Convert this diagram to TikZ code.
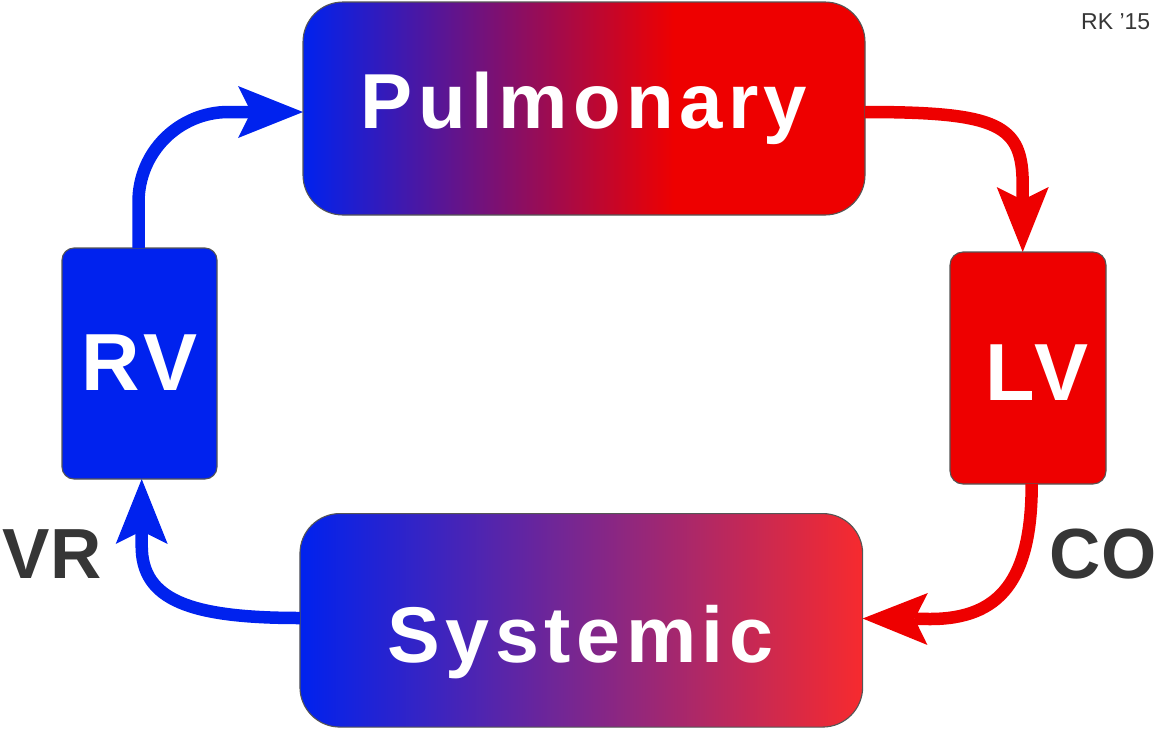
\documentclass[tikz,border=0pt]{standalone}
\usepackage{fontspec}
\setmainfont{Liberation Sans}
\newfontfamily\boxfont[LetterSpace=7]{Liberation Sans}
\usetikzlibrary{arrows.meta,calc}
\definecolor{myblue}{HTML}{0022EE}
\definecolor{myred}{HTML}{EE0000}
\definecolor{sysred}{HTML}{F72A2E}
\definecolor{labgray}{HTML}{363636}
\definecolor{edgegray}{HTML}{555555}
\pgfdeclarehorizontalshading{pulmshade}{100bp}{color(0bp)=(myblue); color(25bp)=(myblue); color(58bp)=(myred); color(100bp)=(myred)}
\pgfdeclarehorizontalshading{sysshade}{100bp}{color(0bp)=(myblue); color(25bp)=(myblue); color(75bp)=(sysred); color(100bp)=(sysred)}
\tikzset{
  bigbox/.style={draw=edgegray, line width=1.1pt, rounded corners=40pt, minimum width=562pt, minimum height=213pt, inner sep=0pt, outer sep=0pt},
  smallbox/.style={draw=edgegray, line width=1.1pt, rounded corners=12pt, minimum width=155pt, minimum height=231pt, inner sep=0pt, outer sep=0pt},
  boxtext/.style={text=white, inner sep=0pt, anchor=base, font=\boxfont\bfseries\fontsize{78}{80}\selectfont},
  vtext/.style={text=white, inner sep=0pt, anchor=base, font=\boxfont\bfseries\fontsize{81}{83}\selectfont},
  outlab/.style={text=labgray, inner sep=0pt, anchor=base, font=\bfseries\fontsize{71}{73}\selectfont},
  flow/.style={line width=12.5pt, -{Stealth[length=65pt, width=52pt, inset=13pt, line width=0pt]}},
}
\begin{document}
\begin{tikzpicture}[x=1pt, y=-1pt]
\useasboundingbox (0,0) rectangle (1157,729);
% boxes
\node[bigbox, shade, shading=pulmshade] (Pulm) at (584,108.5) {};
\node[bigbox, shade, shading=sysshade, minimum width=562.7pt, minimum height=213.5pt] (Sys) at (581.3,620.3) {};
\node[smallbox, fill=myblue] (RV) at (139.5,363.5) {};
\node[smallbox, fill=myred, minimum width=156pt, minimum height=232pt, rounded corners=13pt] (LV) at (1028,368) {};
% box texts
\node[boxtext] (tPulm) at (584,128.3) {Pulmonary};
\node[boxtext, font=\boxfont\bfseries\fontsize{79}{81}\selectfont] (tSys) at (580.5,662.5) {Systemic};
\node[vtext] (tRV) at (139.5,390.7) {RV};
\node[vtext] (tLV) at (1037,400) {LV};
% outer labels
\node[outlab] (tVR) at (52,578) {VR};
\node[outlab] (tCO) at (1103,578) {CO};
\node[text=labgray, inner sep=0pt, anchor=base, font=\fontsize{23}{25}\selectfont] (tRK) at (1115.7,29.3) {RK '15};
% connectors
\draw[flow, myblue] ($(RV.north)+(-1,0)$) -- (138.5,202) .. controls (138.5,152) and (179,112) .. (228.5,112) -- ($(Pulm.west)+(0,3.5)$);
\draw[flow, myred] ($(Pulm.east)+(0,3.5)$) .. controls (1000,112) and (1022.7,125) .. (1022.7,185) -- ($(LV.north)+(-5.3,0)$);
\draw[flow, myred] ($(LV.south)+(3.7,0)$) .. controls (1031.7,580) and (1000,619) .. (930,619) -- ($(Sys.east)+(0,-1.8)$);
\draw[flow, myblue] ($(Sys.west)+(0,-2.3)$) .. controls (190,618) and (141.7,600) .. (141.7,546) -- ($(RV.south)+(2.2,0)$);
\end{tikzpicture}
\end{document}
